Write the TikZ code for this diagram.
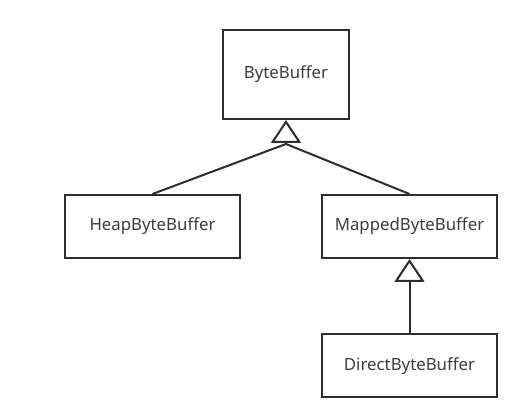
\documentclass[tikz,border=0pt]{standalone}
\usepackage{fontspec}
\setmainfont{Noto Sans}
\usetikzlibrary{arrows.meta,positioning}
\definecolor{umlgray}{RGB}{45,45,45}
\definecolor{textgray}{RGB}{60,60,60}

\begin{document}
\begin{tikzpicture}[
    x=1pt, y=-1pt,
    classbox/.style={draw=umlgray, line width=2pt, minimum width=175pt, minimum height=63pt, align=center, text=textgray, font=\fontsize{16.8}{19}\selectfont},
    inherit/.style={draw=umlgray, line width=2pt, -{Triangle[open, length=23pt, width=30pt, line width=2pt]}}
]
\useasboundingbox (0,0) rectangle (528,403);
\node[classbox, minimum width=126pt, minimum height=89pt] (bytebuf) at (286,74.5) {ByteBuffer};
\node[classbox] (heapbuf) at (152.5,226.5) {HeapByteBuffer};
\node[classbox] (mappedbuf) at (409.5,226.5) {MappedByteBuffer};
\node[classbox] (directbuf) at (409.5,366) {DirectByteBuffer};
\coordinate (join) at ([yshift=-24pt]bytebuf.south);
\draw[inherit] (join) -- (bytebuf.south);
\draw[umlgray, line width=2pt] (heapbuf.north) -- (join) -- (mappedbuf.north);
\draw[inherit] (directbuf.north) -- (mappedbuf.south);
\end{tikzpicture}
\end{document}
